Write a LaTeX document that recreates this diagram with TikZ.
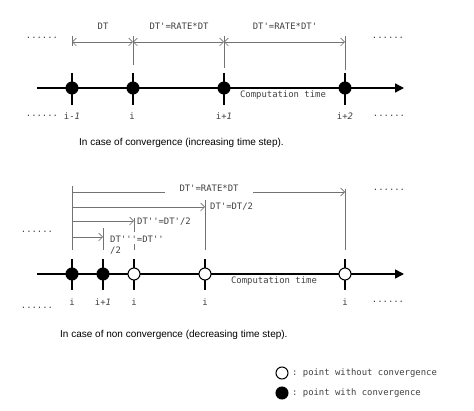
\documentclass[tikz,border=0pt]{standalone}
\usepackage{fontspec}
\setmainfont{Liberation Sans}
\setmonofont{DejaVu Sans Mono}
\usetikzlibrary{arrows.meta}
\begin{document}
\begin{tikzpicture}[x=1pt,y=-1pt,
  pt/.style={circle,draw=black,line width=1pt,minimum size=12pt,inner sep=0pt},
  conv/.style={pt,fill=black},
  nconv/.style={pt,fill=white},
  axis/.style={line width=1.6pt,-{Triangle[length=9pt,width=9pt]}},
  tickline/.style={line width=1.6pt},
  guide/.style={black!55,line width=0.6pt},
  dim/.style={black!55,line width=0.6pt,{Straight Barb[length=4pt,width=8pt]}-{Straight Barb[length=4pt,width=8pt]}},
  ray/.style={black!55,line width=0.6pt,-{Straight Barb[length=4pt,width=8pt]}},
  mono/.style={font=\ttfamily\fontsize{8.9}{10.5}\selectfont,text=black!75,inner sep=0pt},
  capt/.style={font=\fontsize{10}{12}\selectfont,inner sep=0pt,anchor=west}
]
\useasboundingbox (0,0) rectangle (474,411);

% ---------------- top diagram ----------------
\coordinate (ta0) at (37,88);
\coordinate (ta1) at (404,88);
\draw[axis] (ta0) -- (ta1);
\foreach \n/\x in {t1/72,t2/133,t3/224,t4/345}{
  \coordinate (\n top) at (\x,73);
  \coordinate (\n bot) at (\x,105);
  \draw[tickline] (\n top) -- (\n bot);
  \node[conv] (\n) at (\x,88) {};
}
\coordinate (g1a) at (72,36);  \coordinate (g1b) at (72,46);
\coordinate (g2a) at (133,36); \coordinate (g2b) at (133,65);
\coordinate (g3a) at (224,36); \coordinate (g3b) at (224,68);
\coordinate (g4a) at (345,36); \coordinate (g4b) at (345,70);
\draw[guide] (g1a) -- (g1b);
\draw[guide] (g2a) -- (g2b);
\draw[guide] (g3a) -- (g3b);
\draw[guide] (g4a) -- (g4b);
\coordinate (d1) at (72,42); \coordinate (d2) at (133,42);
\coordinate (d3) at (224,42); \coordinate (d4) at (345,42);
\draw[dim] (d1) -- (d2);
\draw[dim] (d2) -- (d3);
\draw[dim] (d3) -- (d4);
\node[mono] (ldt) at (103,26) {DT};
\node[mono] (ldt1) at (179,26) {DT'=RATE*DT};
\node[mono] (ldt2) at (285,26) {DT'=RATE*DT'};
\node[mono] (tdl1) at (42,38) {......};
\node[mono] (tdr1) at (388,38) {......};
\node[mono] (tdl2) at (42,116) {......};
\node[mono] (tdr2) at (389,116) {......};
\node[mono] (ti1) at (72,116) {i-\textit{1}};
\node[mono] (ti2) at (132,116) {i};
\node[mono] (ti3) at (224,116) {i+\textit{1}};
\node[mono] (ti4) at (345,116) {i+\textit{2}};
\node[mono] (tct) at (283,95) {Computation time};
\node[capt] (tcap) at (79,143) {In case of convergence (increasing time step).};

% ---------------- bottom diagram ----------------
\coordinate (ba0) at (37,274);
\coordinate (ba1) at (404,274);
\draw[axis] (ba0) -- (ba1);
\foreach \n/\x in {b1/72,b2/103,b3/134,b4/205,b5/345}{
  \coordinate (\n top) at (\x,259);
  \coordinate (\n bot) at (\x,290);
  \draw[tickline] (\n top) -- (\n bot);
}
\node[conv] (b1) at (72,274) {};
\node[conv] (b2) at (103,274) {};
\node[nconv] (b3) at (134,274) {};
\node[nconv] (b4) at (205,274) {};
\node[nconv] (b5) at (345,274) {};

\coordinate (v1a) at (72,186);  \coordinate (v1b) at (72,250);
\coordinate (v2a) at (103,228); \coordinate (v2b) at (103,250);
\coordinate (v3a) at (134,218); \coordinate (v3b) at (134,232);
\coordinate (v3c) at (134,244); \coordinate (v3d) at (134,250);
\coordinate (v4a) at (205,200); \coordinate (v4b) at (205,250);
\coordinate (v5a) at (345,189); \coordinate (v5b) at (345,250);
\draw[guide] (v1a) -- (v1b);
\draw[guide] (v2a) -- (v2b);
\draw[guide] (v3a) -- (v3b);
\draw[guide] (v3c) -- (v3d);
\draw[guide] (v4a) -- (v4b);
\draw[guide] (v5a) -- (v5b);

\coordinate (r1s) at (72,192); \coordinate (r1m) at (165,192);
\coordinate (r1n) at (253,192); \coordinate (r1e) at (345,192);
\draw[guide] (r1s) -- (r1m);
\draw[ray] (r1n) -- (r1e);
\node[mono] (lr1) at (209,188) {DT'=RATE*DT};

\coordinate (r2s) at (72,207); \coordinate (r2e) at (205,207);
\draw[ray] (r2s) -- (r2e);
\node[mono,anchor=west] (lr2) at (210,207) {DT'=DT/2};

\coordinate (r3s) at (72,221); \coordinate (r3e) at (134,221);
\draw[ray] (r3s) -- (r3e);
\node[mono,anchor=west] (lr3) at (137,222) {DT''=DT'/2};

\coordinate (r4s) at (72,237); \coordinate (r4e) at (103,237);
\draw[ray] (r4s) -- (r4e);
\node[mono,anchor=west] (lr4) at (110,239) {DT'''=DT''};
\node[mono,anchor=west] (lr4b) at (110,251) {/2};

\node[mono] (bdl1) at (37,232) {......};
\node[mono] (bdr1) at (389,190) {......};
\node[mono] (bdl2) at (37,308) {......};
\node[mono] (bdr2) at (388,302) {......};
\node[mono] (bi1) at (72,302) {i};
\node[mono] (bi2) at (103,302) {i+\textit{1}};
\node[mono] (bi3) at (134,302) {i};
\node[mono] (bi4) at (205,302) {i};
\node[mono] (bi5) at (345,302) {i};
\node[mono] (bct) at (274,281) {Computation time};
\node[capt] (bcap) at (60,335) {In case of non convergence (decreasing time step).};

% ---------------- legend ----------------
\node[nconv] (lg1) at (282,373) {};
\node[conv] (lg2) at (282,393) {};
\node[mono,anchor=west] (lt1) at (292,373) {: point without convergence};
\node[mono,anchor=west] (lt2) at (292,393) {: point with convergence};
\end{tikzpicture}
\end{document}
